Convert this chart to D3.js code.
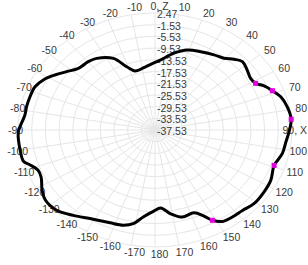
<!DOCTYPE html>
<html>
<head>
<meta charset="utf-8">
<script src="https://cdn.jsdelivr.net/npm/d3@7"></script>
<style>
    body { margin: 0; background: #fff; }
    text { font-family: "Liberation Sans", Arial, sans-serif; fill: #3a3a3a; }
</style>
</head>
<body>
<div id="polar"></div>
<script>
// angle (deg, clockwise from top) and gain (dB)
var angles = [-179.0, -173.4, -168.8, -164.1, -157.5, -149.4, -140.7, -133.7, -126.8, -121.9,
              -115.8, -111.8, -108.0, -105.7, -100.7, -91.0, -88.4, -82.3, -78.0, -72.7,
              -67.1, -62.3, -57.2, -52.3, -46.7, -39.8, -34.8, -26.4, -20.9, -16.1,
              -7.7, -1.2, 4.0, 11.9, 19.0, 26.5, 33.9, 39.4, 43.7, 47.5,
              52.7, 57.7, 61.5, 64.7, 68.6, 72.8, 78.4, 84.7, 91.0, 96.1,
              102.3, 109.2, 117.0, 123.7, 131.1, 137.1, 142.8, 147.8, 151.5, 154.1,
              158.1, 165.0, 170.9, 176.4];
var gain = [-9.7, -7.6, -4.9, -3.7, -3.2, -2.1, 0.2, 2.2, 2.45, 1.3,
            -0.6, -0.7, 0.9, 2.3, 2.45, 2.4, 1.9, 0.8, 0.8, 0.7,
            0.5, -0.7, -2.8, -4.9, -6.8, -7.1, -7.7, -10.2, -14.4, -16.5,
            -15.8, -14.7, -13.5, -10.7, -8.6, -7.6, -6.6, -5.8, -4.1, -2.9,
            -3.7, -4.5, -4.1, -2.3, -0.7, 0.9, 1.9, 2.4, 1.6, 0.9,
            0.5, -0.7, 0.4, 0.7, 0.8, 0.0, -0.2, -0.6, -2.4, -4.8,
            -7.0, -6.7, -8.5, -10.8];

// highlighted points (magenta)
var markAngles = [61.5, 68.6, 84.7, 109.2, 151.5];
var markGain = [-4.1, -0.7, 2.4, -0.7, -2.4];

// radial ticks
var rTicks = [2.47, -1.53, -5.53, -9.53, -13.53, -17.53, -21.53, -25.53, -29.53, -33.53, -37.53];
var rTickLabels = ["2.47", "-1.53", "-5.53", "-9.53", "-13.53", "-17.53", "-21.53", "-25.53", "-29.53", "-33.53", "-37.53"];

// angle ticks
var aTicks = d3.range(-170, 181, 10);
function aLabel(a) {
    if (a === 0) return "0, Z";
    if (a === 90) return "90, X";
    return String(a);
}

function init() {
    var w = 308;
    var h = 265;
    var cx = 155, cy = 130;   // chart centre
    var rx = 137, ry = 117;   // the picture is slightly stretched sideways

    var svg = d3.select("#polar")
                .append("svg")
                .attr("width", w)
                .attr("height", h);

    var r = d3.scaleLinear().domain([-37.53, 2.47]).range([0, 1]);
    var rad = function(a) { return a * Math.PI / 180; };
    var px = function(a, v) { return cx + rx * r(v) * Math.sin(rad(a)); };
    var py = function(a, v) { return cy - ry * r(v) * Math.cos(rad(a)); };

    var grid = svg.append("g");

    //rings
    grid.selectAll("ellipse")
        .data(rTicks.slice(0, rTicks.length - 1))
        .enter()
        .append("ellipse")
        .attr("cx", cx)
        .attr("cy", cy)
        .attr("rx", function(d) { return rx * r(d); })
        .attr("ry", function(d) { return ry * r(d); })
        .style("fill", "none")
        .style("stroke", "#e6e6e6")
        .style("stroke-width", 1);

    //spokes
    grid.selectAll("line")
        .data(aTicks)
        .enter()
        .append("line")
        .attr("x1", cx)
        .attr("y1", cy)
        .attr("x2", function(d) { return px(d, 2.47); })
        .attr("y2", function(d) { return py(d, 2.47); })
        .style("stroke", "#e6e6e6")
        .style("stroke-width", 1);

    //angle labels
    svg.append("g")
        .selectAll("text")
        .data(aTicks)
        .enter()
        .append("text")
        .attr("x", function(d) { return 159.5 + 144 * Math.sin(rad(d)); })
        .attr("y", function(d) { return 129.5 - 124 * Math.cos(rad(d)); })
        .attr("text-anchor", "middle")
        .attr("dominant-baseline", "central")
        .style("font-size", "10.5px")
        .text(aLabel)
        .each(function() {
            //keep the side labels inside the picture
            var t = d3.select(this);
            var half = this.getComputedTextLength() / 2;
            var x = +t.attr("x");
            if (x + half > w - 1) t.attr("x", w - 1 - half);
            if (x - half < 1) t.attr("x", 1 + half);
        });

    //radial labels
    svg.append("g")
        .selectAll("text")
        .data(rTicks)
        .enter()
        .append("text")
        .attr("x", cx + 2)
        .attr("y", function(d) { return cy - ry * r(d) + 1; })
        .attr("text-anchor", "start")
        .attr("dominant-baseline", "central")
        .style("font-size", "10.5px")
        .text(function(d, i) { return rTickLabels[i]; });

    //pattern line
    var pts = angles.map(function(a, i) { return [px(a, gain[i]), py(a, gain[i])]; });
    var line = d3.line().curve(d3.curveCatmullRomClosed.alpha(0.5));

    svg.append("path")
        .attr("d", line(pts))
        .style("fill", "none")
        .style("stroke", "#000")
        .style("stroke-width", 3)
        .style("stroke-linejoin", "round");

    //magenta markers
    svg.append("g")
        .selectAll("rect")
        .data(markAngles)
        .enter()
        .append("rect")
        .attr("x", function(d, i) { return px(d, markGain[i]) - 2.5; })
        .attr("y", function(d, i) { return py(d, markGain[i]) - 2.5; })
        .attr("width", 5)
        .attr("height", 5)
        .style("fill", "#e000e0");
}

window.onload = init;
</script>
</body>
</html>
